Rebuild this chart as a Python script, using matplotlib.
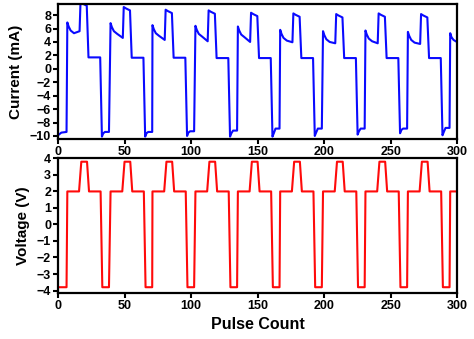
import matplotlib
matplotlib.use("Agg")
import matplotlib.pyplot as plt
import numpy as np

# ---- data ----
cycle_start = [7, 39.5, 71, 103.3, 135.2, 167, 199.2, 231.1, 263, 294.8]   # pulse where V jumps to 2 V
# voltage levels
v_low, v_mid, v_high = -3.8, 2.0, 3.8
# phase offsets (pulses after cycle start) of voltage breakpoints
v_phase = [0.0, 8.8, 10.5, 14.8, 16.3, 25.0, 26.3, 31.3]
v_phase_vals = [v_mid, v_mid, v_high, v_high, v_mid, v_mid, v_low, v_low]

# current features per cycle (mA)
i_rise = [6.9, 6.8, 6.5, 6.4, 6.3, 5.8, 5.6, 5.7, 5.5, 5.3]
i_decay = [5.6, 4.6, 4.3, 4.1, 4.0, 3.95, 3.8, 3.8, 3.7, 4.0]
i_peak = [9.9, 9.2, 8.8, 8.7, 8.35, 8.25, 8.15, 8.25, 8.15]
i_mid = [1.7, 1.65, 1.65, 1.6, 1.6, 1.6, 1.6, 1.6, 1.6]
i_neg = [-10.1, -10.1, -10.0, -10.1, -10.1, -10.0, -9.8, -9.6, -9.9]
i_neg_end = [-9.4, -9.4, -9.3, -9.2, -8.9, -8.9, -8.9, -8.9, -8.8]
i_start = [-9.9, -9.5, -9.4]          # before the first cycle
i_start_pulse = [0, 2.5, 6.4]
# phase offsets of current breakpoints
i_phase = [0.0, 1.0, 2.5, 5.0, 9.2, 9.9, 11.5, 14.6, 15.9, 24.7, 26.0, 27.0, 28.3, 31.3]

# ---- build traces ----
pv, vv = [0.0, 6.4], [v_low, v_low]
for t in cycle_start:
    for ph, val in zip(v_phase, v_phase_vals):
        x = t + ph
        if x <= 300:
            pv.append(x); vv.append(val)
if pv[-1] < 300:
    pv.append(300); vv.append(vv[-1])

pc, ic = list(i_start_pulse), list(i_start)
for k, t in enumerate(cycle_start):
    R, D = i_rise[k], i_decay[k]
    if k < len(i_peak):
        P, M, N, E = i_peak[k], i_mid[k], i_neg[k], i_neg_end[k]
        vals = [R, R - 0.6, R - 1.2, R - 1.6, D, P, P - 0.2, P - 0.5,
                M, M, N, N + 0.5, E, E]
    else:
        vals = [R, R - 0.6, R - 1.0, D]
    for ph, val in zip(i_phase, vals):
        x = t + ph
        if x <= 300:
            pc.append(x); ic.append(val)
        else:
            pc.append(300); ic.append(val)
            break

# ---- plot ----
plt.rcParams['font.family'] = ['Liberation Sans', 'DejaVu Sans']
plt.rcParams['font.weight'] = 'bold'
fig = plt.figure(figsize=(4.74, 3.39), dpi=100)
ax1 = fig.add_axes([0.1224, 0.590, 0.842, 0.398])
ax2 = fig.add_axes([0.1224, 0.1357, 0.842, 0.398])

ax1.plot(pc, ic, color='#0a0aff', lw=1.5)
ax2.plot(pv, vv, color='#ff0a0a', lw=1.5)

ax1.set_xlim(0, 300); ax1.set_ylim(-10.45, 9.64)
ax2.set_xlim(0, 300); ax2.set_ylim(-4.15, 4.02)
ax1.set_yticks(np.arange(-10, 9, 2))
ax2.set_yticks(np.arange(-4, 5, 1))
for ax in (ax1, ax2):
    ax.set_xticks(np.arange(0, 301, 50))
    ax.tick_params(direction='out', length=3.5, width=1.5, labelsize=9, pad=1.5)
    for s in ax.spines.values():
        s.set_linewidth(1.6)
    for lab in ax.get_xticklabels() + ax.get_yticklabels():
        lab.set_fontweight('bold')

ax1.set_ylabel('Current (mA)', fontsize=11, fontweight='bold', labelpad=5)
ax2.set_ylabel('Voltage (V)', fontsize=11, fontweight='bold', labelpad=5)
ax2.set_xlabel('Pulse Count', fontsize=11.5, fontweight='bold', labelpad=4)

fig.savefig('out.png', dpi=100)
